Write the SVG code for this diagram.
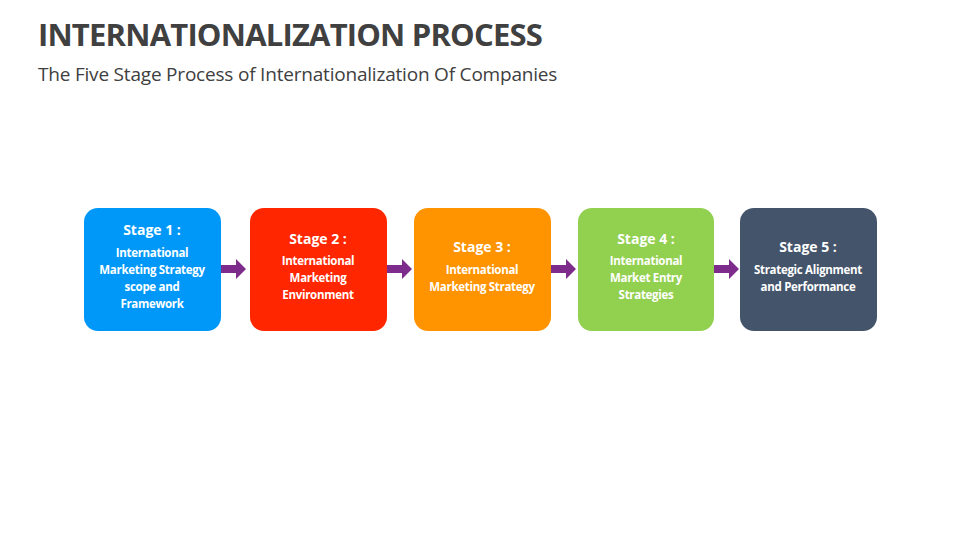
<svg xmlns="http://www.w3.org/2000/svg" width="960" height="540" viewBox="0 0 960 540">
<style>
.t{font-family:"Open Sans","Liberation Sans",sans-serif}
.h{font-size:14px;font-weight:bold;fill:#fff;text-anchor:middle}
.b{font-size:11.5px;font-weight:bold;fill:#fff;text-anchor:middle;letter-spacing:-0.3px}
.a{fill:#7E2C8C}
</style>
<rect width="960" height="540" fill="#fff"/>
<text class="t" x="38" y="46" font-size="31" font-weight="bold" fill="#404040" letter-spacing="-0.8">INTERNATIONALIZATION PROCESS</text>
<text class="t" x="38" y="81" font-size="19" fill="#404040" letter-spacing="-0.2">The Five Stage Process of Internationalization Of Companies</text>
<g id="connectors">
<path class="a" d="M221 265h15v-6l10 10-10 10v-6h-15z"/>
<path class="a" d="M387 265h15v-6l10 10-10 10v-6h-15z"/>
<path class="a" d="M551 265h15v-6l10 10-10 10v-6h-15z"/>
<path class="a" d="M714 265h15v-6l10 10-10 10v-6h-15z"/>
</g>
<g id="stage1"><rect x="84" y="208" width="137" height="123" rx="14" fill="#0098F8"/>
<text class="t h" x="152" y="235">Stage 1 :</text>
<text class="t b" x="152" y="257">International</text><text class="t b" x="152" y="274">Marketing Strategy</text><text class="t b" x="152" y="291">scope and</text><text class="t b" x="152" y="308">Framework</text></g>
<g id="stage2"><rect x="250" y="208" width="137" height="123" rx="14" fill="#FF2600"/>
<text class="t h" x="318" y="244">Stage 2 :</text>
<text class="t b" x="318" y="265">International</text><text class="t b" x="318" y="282">Marketing</text><text class="t b" x="318" y="299">Environment</text></g>
<g id="stage3"><rect x="414" y="208" width="137" height="123" rx="14" fill="#FF9300"/>
<text class="t h" x="482" y="252">Stage 3 :</text>
<text class="t b" x="482" y="274">International</text><text class="t b" x="482" y="291">Marketing Strategy</text></g>
<g id="stage4"><rect x="578" y="208" width="136" height="123" rx="14" fill="#92D050"/>
<text class="t h" x="646" y="244">Stage 4 :</text>
<text class="t b" x="646" y="265">International</text><text class="t b" x="646" y="282">Market Entry</text><text class="t b" x="646" y="299">Strategies</text></g>
<g id="stage5"><rect x="740" y="208" width="137" height="123" rx="14" fill="#44546A"/>
<text class="t h" x="808" y="252">Stage 5 :</text>
<text class="t b" x="808" y="274">Strategic Alignment</text><text class="t b" x="808" y="291">and Performance</text></g>
</svg>
